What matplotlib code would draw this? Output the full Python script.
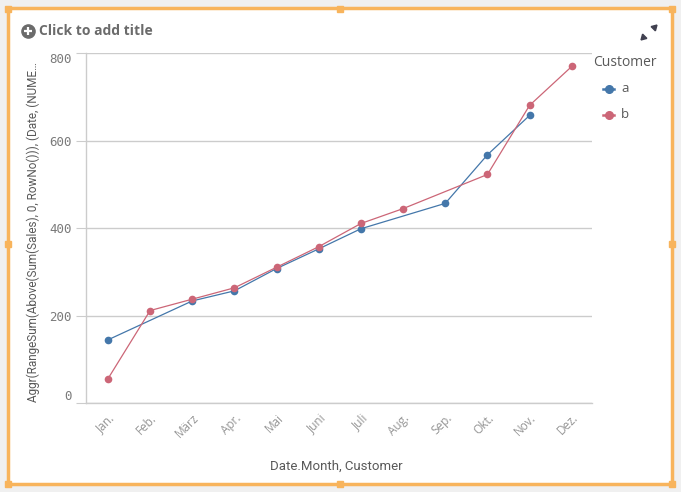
import numpy as np
import matplotlib
matplotlib.use("Agg")
import matplotlib.pyplot as plt
from matplotlib.lines import Line2D
from matplotlib.patches import Rectangle

months = ["Jan.", "Feb.", "März", "Apr.", "Mai", "Juni", "Juli", "Aug.", "Sep.", "Okt.", "Nov.", "Dez."]
series_a = [145, np.nan, 234, 257, 308, 353, 399, np.nan, 457, 568, 658, np.nan]
series_b = [56, 212, 238, 264, 311, 358, 411, 445, np.nan, 523, 681, 770]
series_names = ["a", "b"]
yticks = [0, 200, 400, 600, 800]

W, H = 681, 492
def fx(x): return x / W
def fy(y): return 1 - y / H

fig = plt.figure(figsize=(W / 100, H / 100), dpi=100, facecolor="#f0f0f0")

# white panel with orange selection frame
fig.add_artist(Rectangle((fx(8), fy(484)), fx(672) - fx(8), fy(8) - fy(484),
                         transform=fig.transFigure, facecolor="white",
                         edgecolor="#f8b45c", linewidth=2.5, zorder=0))
for (hx, hy) in [(8, 9), (340, 9), (672, 9), (8, 244), (672, 244), (8, 484), (340, 484), (672, 484)]:
    fig.add_artist(Line2D([fx(hx)], [fy(hy)], marker="s", markersize=5,
                          color="#f8b45c", transform=fig.transFigure, zorder=2))

# title with plus icon
fig.add_artist(Line2D([fx(28)], [fy(31)], marker="o", markersize=9.5,
                      color="#6b6b6b", transform=fig.transFigure))
fig.add_artist(Line2D([fx(28)], [fy(31)], marker="+", markersize=6, markeredgewidth=1.6,
                      color="white", transform=fig.transFigure))
fig.text(fx(39), fy(31), "Click to add title", fontsize=10, fontweight="bold",
         color="#6b6b6b", family="Open Sans", va="center", ha="left")

# expand icon
fig.add_artist(Line2D([fx(653.5)], [fy(26.5)], marker=(3, 0, -45), markersize=5,
                      color="#404050", transform=fig.transFigure))
fig.add_artist(Line2D([fx(643)], [fy(37)], marker=(3, 0, 135), markersize=5,
                      color="#404050", transform=fig.transFigure))

ax = fig.add_axes([fx(86), fy(403.3), fx(592) - fx(86), fy(53.3) - fy(403.3)])
x = np.arange(len(months))
colors = ["#4477aa", "#cc6677"]
for vals, c, name in zip([series_a, series_b], colors, series_names):
    v = np.array(vals, dtype=float)
    m = ~np.isnan(v)
    ax.plot(x[m], v[m], color=c, linewidth=0.9, marker="o", markersize=5.5,
            markeredgewidth=0, label=name, zorder=3)

ax.set_xlim(-0.52, 11.48)
ax.set_ylim(0, 800)
ax.set_yticks(yticks)
ax.set_yticklabels([str(t) for t in yticks], family="DejaVu Sans Mono",
                   fontsize=9, color="#7a7a7a")
lbls = ax.get_yticklabels()
lbls[0].set_va("bottom")
lbls[-1].set_va("top")
ax.grid(axis="y", color="#cccccc", linewidth=1)
ax.set_axisbelow(True)
for s in ["top", "right"]:
    ax.spines[s].set_visible(False)
for s in ["left", "bottom"]:
    ax.spines[s].set_color("#cccccc")
    ax.spines[s].set_linewidth(1)
ax.tick_params(axis="y", length=7, color="#cccccc", pad=3)
ax.tick_params(axis="x", length=0, pad=6)
ax.set_xticks(x)
ax.set_xticklabels(months, rotation=45, ha="right", rotation_mode="anchor",
                   fontsize=8.5, color="#959595", family="Open Sans")

fig.text(fx(33), (fy(60) + fy(405)) / 2,
         "Aggr(RangeSum(Above(Sum(Sales), 0, RowNo())), (Date, (NUME…",
         fontsize=8.5, color="#595959", family="Roboto", rotation=90,
         ha="center", va="center")

fig.text(fx(336), fy(466), "Date.Month, Customer", fontsize=9.5, color="#595959",
         family="Roboto", ha="center", va="center")

# legend
fig.text(fx(593), fy(63), "Customer", fontsize=10, color="#595959",
         family="Open Sans", ha="left", va="center")
for i, (c, name) in enumerate(zip(colors, series_names)):
    yy = 89 + 26 * i
    fig.add_artist(Line2D([fx(603), fx(614)], [fy(yy), fy(yy)], color=c, linewidth=1.8,
                          transform=fig.transFigure))
    fig.add_artist(Line2D([fx(608.5)], [fy(yy)], marker="o", markersize=5.5, color=c,
                          transform=fig.transFigure))
    fig.text(fx(621), fy(yy), name, fontsize=9.5, color="#595959",
             family="Open Sans", ha="left", va="center")

fig.savefig("out.png", dpi=100, facecolor=fig.get_facecolor())
